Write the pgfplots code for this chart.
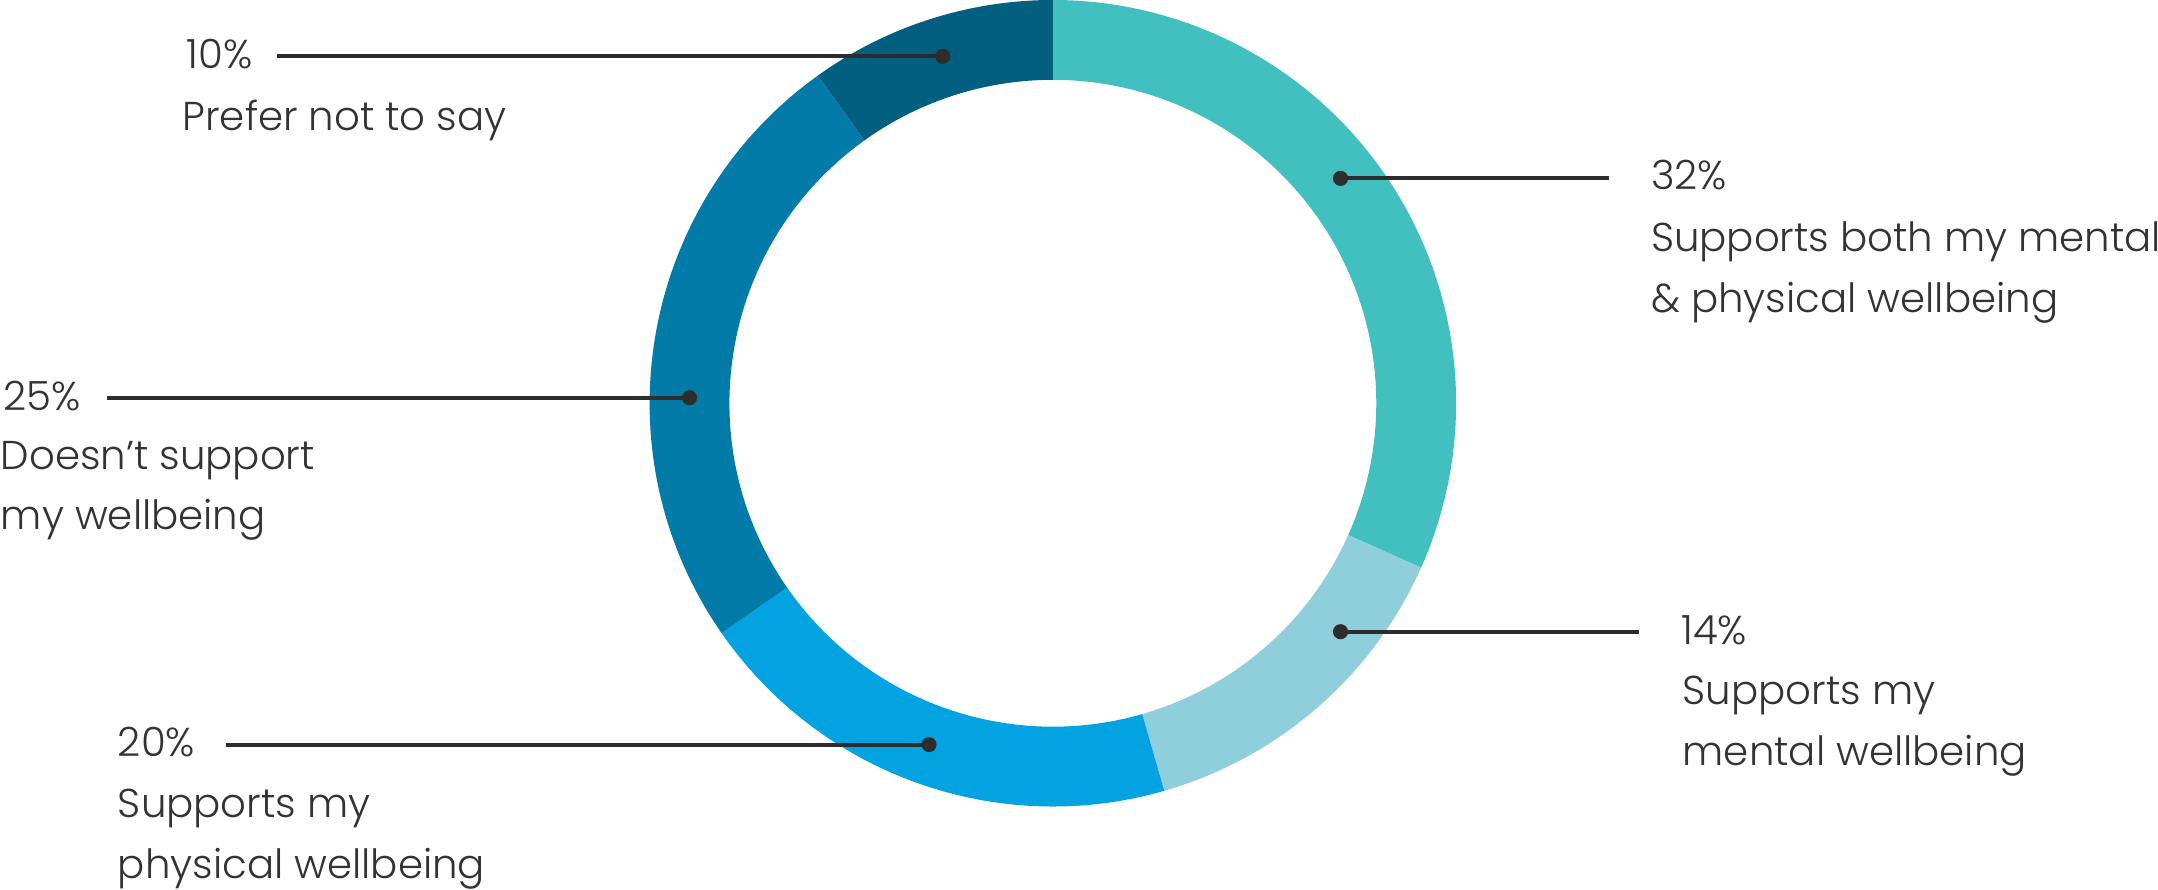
\documentclass[border=0pt]{standalone}
\usepackage{pgfplots}
\usepackage{pgfplotstable}
\pgfplotsset{compat=1.18}
\usepackage{fontspec}
\setmainfont{Poppins}[UprightFont={* Light}]
\definecolor{cA}{HTML}{42BFBF}
\definecolor{cB}{HTML}{8ECFDB}
\definecolor{cC}{HTML}{03A2E0}
\definecolor{cD}{HTML}{027BA8}
\definecolor{cE}{HTML}{035F80}
\definecolor{tc}{HTML}{333333}
\definecolor{lc}{HTML}{2D2D2D}
\pgfplotstableread{
value color
32 cA
14 cB
20 cC
25 cD
10 cE
}\donut
\begin{document}
\fontsize{8.33}{12.5}\selectfont
\begin{tikzpicture}
\begin{axis}[at={(0,0)},anchor=south west,scale only axis,width=15.68cm,height=6.46cm,
  xmin=0,xmax=1568,ymin=0,ymax=646,hide axis,clip=false]
\gdef\sa{90}
\foreach \i in {0,...,4}{
  \pgfplotstablegetelem{\i}{value}\of\donut \let\v\pgfplotsretval
  \pgfplotstablegetelem{\i}{color}\of\donut \let\c\pgfplotsretval
  \pgfmathsetmacro\ea{\sa-\v*360/101}
  \edef\temp{\noexpand\fill[\c] (axis cs:{765+293*cos(\sa)},{353+293*sin(\sa)}) arc[start angle=\sa,end angle=\ea,radius=293] -- (axis cs:{765+235*cos(\ea)},{353+235*sin(\ea)}) arc[start angle=\ea,end angle=\sa,radius=235] -- cycle;}
  \temp
  \xdef\sa{\ea}
}
% leader lines
\draw[lc,line width=0.85pt] (axis cs:201,605) -- (axis cs:685,605);
\fill[lc] (axis cs:685,605) circle[radius=5.5];
\draw[lc,line width=0.85pt] (axis cs:974,516.4) -- (axis cs:1169,516.4);
\fill[lc] (axis cs:974,516.4) circle[radius=5.5];
\draw[lc,line width=0.85pt] (axis cs:78,357) -- (axis cs:501,357);
\fill[lc] (axis cs:501,357) circle[radius=5.5];
\draw[lc,line width=0.85pt] (axis cs:974,187) -- (axis cs:1191,187);
\fill[lc] (axis cs:974,187) circle[radius=5.5];
\draw[lc,line width=0.85pt] (axis cs:164,105) -- (axis cs:675,105);
\fill[lc] (axis cs:675,105) circle[radius=5.5];
% labels
\tikzset{lbl/.style={anchor=base west,inner sep=0pt,text=tc}}
\node[lbl] at (axis cs:135,596) {10\%};
\node[lbl] at (axis cs:132,551.5) {Prefer not to say};
\node[lbl] at (axis cs:1199,508) {32\%};
\node[lbl] at (axis cs:1199,463) {Supports both my mental};
\node[lbl] at (axis cs:1199,419) {\& physical wellbeing};
\node[lbl] at (axis cs:2,348) {25\%};
\node[lbl] at (axis cs:0,304.5) {Doesn’t support};
\node[lbl] at (axis cs:0,261) {my wellbeing};
\node[lbl] at (axis cs:1221,178) {14\%};
\node[lbl] at (axis cs:1222,134) {Supports my};
\node[lbl] at (axis cs:1222,90) {mental wellbeing};
\node[lbl] at (axis cs:85,96) {20\%};
\node[lbl] at (axis cs:85,52) {Supports my};
\node[lbl] at (axis cs:85,8) {physical wellbeing};
\end{axis}
\pgfresetboundingbox
\path (0,0) rectangle (15.68cm,6.46cm);
\end{tikzpicture}
\end{document}
